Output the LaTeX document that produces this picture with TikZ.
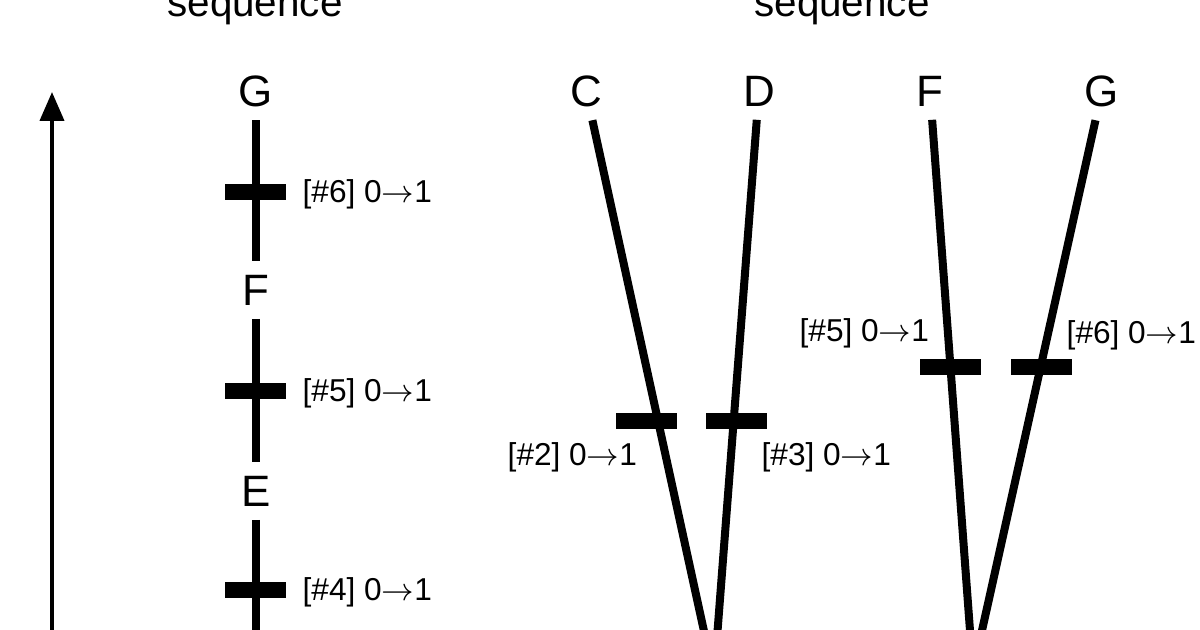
\documentclass[tikz,border=0pt]{standalone}
\usepackage{fontspec}
\setmainfont{Liberation Sans}
\usepackage{tikz}
\usetikzlibrary{positioning}
\usetikzlibrary{arrows.meta}

\begin{document}
\begin{tikzpicture}[
    letter/.style={inner sep=3.7pt, font=\fontsize{12.5}{15}\selectfont},
    stem/.style={line width=0.08cm},
    bar/.style={fill=black, inner sep=0pt, minimum width=0.61cm, minimum height=0.16cm},
    lab/.style={right, inner sep=0pt, font=\fontsize{9}{11}\selectfont},
    head/.style={anchor=base, font=\fontsize{11.5}{14}\selectfont}
    ]
\useasboundingbox (0,0) rectangle (12,6.3);
\clip (0,0) rectangle (12,6.3);

%\draw[gray,very thin, step=0.5cm, opacity=0.5] (0,0) grid (12,6.3);

% titles (cut at the top)
\node[head] (hl) at (2.55,6.13) {sequence};
\node[head] (hr) at (8.42,6.13) {sequence};

% time arrow
\coordinate (t0) at (0.52,-0.1);
\coordinate (t1) at (0.52,5.38);
\draw[line width=0.04cm, -{Triangle[length=0.29cm, width=0.24cm]}] (t0)--(t1);

% left: one line
\node[letter] (lG) at (2.56,5.39) {G};
\node[letter] (lF) at (2.56,3.40) {F};
\node[letter] (lE) at (2.56,1.39) {E};
\coordinate (lbot) at (2.56,-0.2);

\draw[stem] (lG)--(lF);
\draw[stem] (lF)--(lE);
\draw[stem] (lE)--(lbot);

\node[bar] (b6) at (2.555,4.38) {};
\node[bar] (b5) at (2.555,2.39) {};
\node[bar] (b4) at (2.555,0.40) {};

\node[lab] (t6) at (3.02,4.36) {[\#6] 0$\rightarrow$1};
\node[lab] (t5) at (3.02,2.37) {[\#5] 0$\rightarrow$1};
\node[lab] (t4) at (3.02,0.38) {[\#4] 0$\rightarrow$1};

% right: two pairs
\node[letter] (rC) at (5.86,5.39) {C};
\node[letter] (rD) at (7.59,5.39) {D};
\node[letter] (rF) at (9.30,5.39) {F};
\node[letter] (rG) at (11.02,5.39) {G};
\coordinate (cd) at (7.14,-0.47);
\coordinate (fg) at (9.73,-0.41);

\draw[stem] (rC)--(cd);
\draw[stem] (rD)--(cd);
\draw[stem] (rF)--(fg);
\draw[stem] (rG)--(fg);

\node[bar] (b2) at (6.46,2.09) {};
\node[bar] (b3) at (7.36,2.09) {};
\node[bar] (b5r) at (9.50,2.63) {};
\node[bar] (b6r) at (10.41,2.63) {};

\node[lab] (t2) at (5.07,1.73) {[\#2] 0$\rightarrow$1};
\node[lab] (t3) at (7.61,1.73) {[\#3] 0$\rightarrow$1};
\node[lab] (t5r) at (7.99,2.97) {[\#5] 0$\rightarrow$1};
\node[lab] (t6r) at (10.66,2.95) {[\#6] 0$\rightarrow$1};

\end{tikzpicture}
\end{document}
